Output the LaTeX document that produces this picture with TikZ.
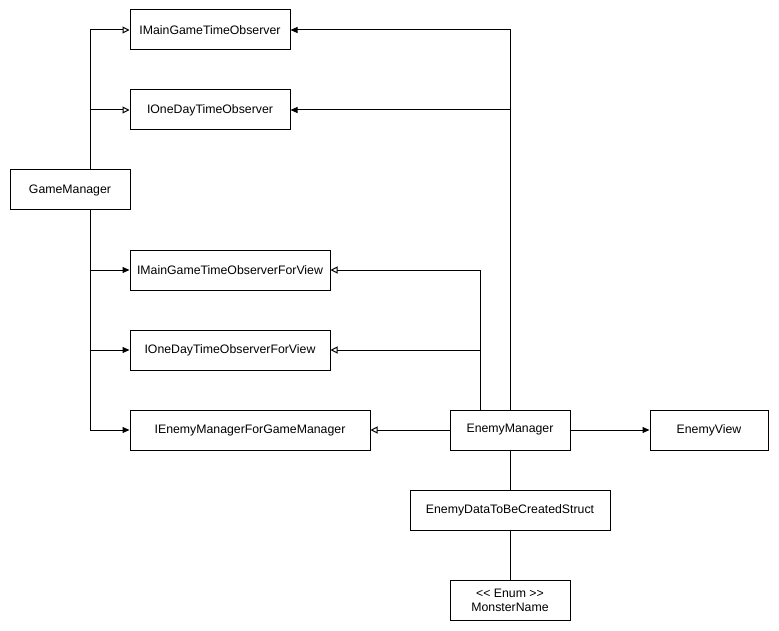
\documentclass[tikz,border=0pt]{standalone}
\usepackage{fontspec}
\setmainfont{Liberation Sans}[Ligatures=TeXOff]
\usetikzlibrary{arrows.meta}
\begin{document}
\begin{tikzpicture}[x=1pt,y=-1pt,
  box/.style={draw, line width=1pt, rectangle, minimum height=40pt, inner sep=0pt, align=center, font=\fontsize{12.3}{14}\selectfont},
  conn/.style={line width=1pt},
  openarrow/.style={conn, -{Triangle[open,length=7pt,width=7pt]}},
  fillarrow/.style={conn, -{Triangle[length=7pt,width=6pt]}}]
\useasboundingbox (0,0) rectangle (779,631);
\node[box, minimum width=160pt] (imgto) at (210,30) {IMainGameTimeObserver};
\node[box, minimum width=160pt] (iodto) at (210,110) {IOneDayTimeObserver};
\node[box, minimum width=120pt] (gm) at (70,190) {GameManager};
\node[box, minimum width=200pt] (imgtov) at (230,270) {IMainGameTimeObserverForView};
\node[box, minimum width=200pt] (iodtov) at (230,350) {IOneDayTimeObserverForView};
\node[box, minimum width=240pt] (iemfgm) at (250,430) {IEnemyManagerForGameManager};
\node[box, minimum width=120pt] (em) at (510,430) {EnemyManager};
\node[box, minimum width=118pt] (ev) at (709,430) {EnemyView};
\node[box, minimum width=200pt] (eds) at (510,510) {EnemyDataToBeCreatedStruct};
\node[box, minimum width=120pt] (mn) at (510,600) {<{}< Enum >{}>\\MonsterName};
\coordinate (gmt) at (90,170);
\coordinate (gmb) at (90,210);
\coordinate (emt) at (480,410);
\draw[openarrow] (gmt) |- (imgto.west);
\draw[openarrow] (gmt) |- (iodto.west);
\draw[fillarrow] (gmb) |- (imgtov.west);
\draw[fillarrow] (gmb) |- (iodtov.west);
\draw[fillarrow] (gmb) |- (iemfgm.west);
\draw[fillarrow] (em.north) |- (imgto.east);
\draw[fillarrow] (em.north) |- (iodto.east);
\draw[openarrow] (emt) |- (imgtov.east);
\draw[openarrow] (emt) |- (iodtov.east);
\draw[openarrow] (em.west) -- (iemfgm.east);
\draw[fillarrow] (em.east) -- (ev.west);
\draw[conn] (em.south) -- (eds.north);
\draw[conn] (eds.south) -- (mn.north);
\end{tikzpicture}
\end{document}
